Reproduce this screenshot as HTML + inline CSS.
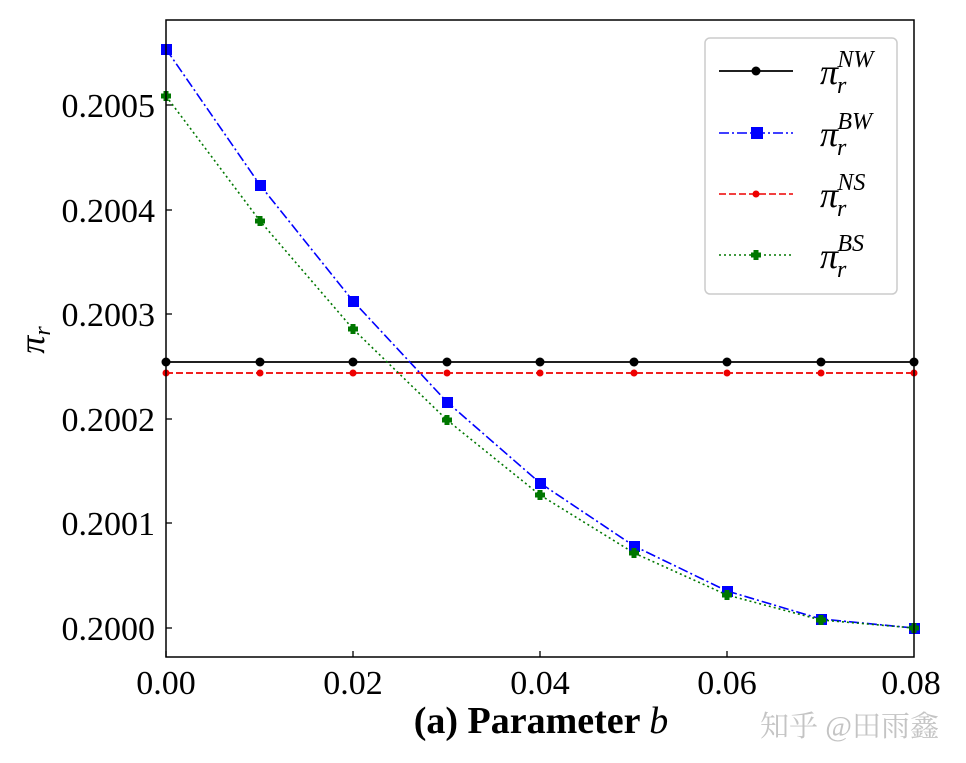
<!DOCTYPE html><html><head><style>body{margin:0;background:#fff}svg{display:block}text{font-family:"Liberation Serif","Noto Serif CJK SC",serif}</style></head><body>
<svg width="966" height="763" xmlns="http://www.w3.org/2000/svg">
<defs>
<path id="pl" d="M-2.5,-5 h5 v2.5 h2.5 v5 h-2.5 v2.5 h-5 v-2.5 h-2.5 v-5 h2.5z" fill="#070"/>
</defs>
<g stroke="#000" stroke-width="1.3">
<line x1="166" y1="657" x2="166" y2="651"/><line x1="353" y1="657" x2="353" y2="651"/><line x1="540" y1="657" x2="540" y2="651"/><line x1="727" y1="657" x2="727" y2="651"/>
<line x1="166" y1="628" x2="172" y2="628"/><line x1="166" y1="523" x2="172" y2="523"/><line x1="166" y1="419" x2="172" y2="419"/><line x1="166" y1="314" x2="172" y2="314"/><line x1="166" y1="210" x2="172" y2="210"/><line x1="166" y1="105" x2="172" y2="105"/>
</g>
<g font-size="34" text-anchor="end">
<text x="155" y="640">0.2000</text><text x="155" y="535">0.2001</text><text x="155" y="431">0.2002</text><text x="155" y="326">0.2003</text><text x="155" y="222">0.2004</text><text x="155" y="117">0.2005</text>
</g>
<g font-size="34" text-anchor="middle">
<text x="166" y="694">0.00</text><text x="353" y="694">0.02</text><text x="540" y="694">0.04</text><text x="727" y="694">0.06</text><text x="911" y="694">0.08</text>
<text x="541" y="733" font-weight="bold" font-size="38">(a) Parameter <tspan font-style="italic" font-weight="normal">b</tspan></text>
</g>
<text transform="translate(44,340) rotate(-90)" font-size="36" font-style="italic" text-anchor="middle">π<tspan font-size="24" dy="6">r</tspan></text>
<polyline fill="none" stroke="#000" stroke-width="1.8" points="166,362 914,362"/>
<polyline fill="none" stroke="#e00" stroke-width="1.8" stroke-dasharray="7,3" points="166,373 914,373"/>
<polyline fill="none" stroke="#00f" stroke-width="1.6" stroke-dasharray="10,3,2,3" points="166,49 260,185 353,301 447,402 540,483 634,546 727,591 821,619 914,628"/>
<polyline fill="none" stroke="#070" stroke-width="1.6" stroke-dasharray="2,3" points="166,96 260,221 353,329 447,420 540,495 634,553 727,595 821,620 914,628"/>
<g fill="#000"><circle cx="166" cy="362" r="4.5"/><circle cx="260" cy="362" r="4.5"/><circle cx="353" cy="362" r="4.5"/><circle cx="447" cy="362" r="4.5"/><circle cx="540" cy="362" r="4.5"/><circle cx="634" cy="362" r="4.5"/><circle cx="727" cy="362" r="4.5"/><circle cx="821" cy="362" r="4.5"/><circle cx="914" cy="362" r="4.5"/></g>
<g fill="#e00"><circle cx="166" cy="373" r="3.5"/><circle cx="260" cy="373" r="3.5"/><circle cx="353" cy="373" r="3.5"/><circle cx="447" cy="373" r="3.5"/><circle cx="540" cy="373" r="3.5"/><circle cx="634" cy="373" r="3.5"/><circle cx="727" cy="373" r="3.5"/><circle cx="821" cy="373" r="3.5"/><circle cx="914" cy="373" r="3.5"/></g>
<g fill="#00f"><rect x="161" y="44" width="11" height="11"/><rect x="255" y="180" width="11" height="11"/><rect x="348" y="296" width="11" height="11"/><rect x="442" y="397" width="11" height="11"/><rect x="535" y="478" width="11" height="11"/><rect x="629" y="541" width="11" height="11"/><rect x="722" y="586" width="11" height="11"/><rect x="816" y="614" width="11" height="11"/><rect x="909" y="623" width="11" height="11"/></g>
<use href="#pl" x="166" y="96"/><use href="#pl" x="260" y="221"/><use href="#pl" x="353" y="329"/><use href="#pl" x="447" y="420"/><use href="#pl" x="540" y="495"/><use href="#pl" x="634" y="553"/><use href="#pl" x="727" y="595"/><use href="#pl" x="821" y="620"/><use href="#pl" x="914" y="628"/>
<rect x="166" y="20" width="748" height="637" fill="none" stroke="#000" stroke-width="1.5"/>
<rect x="705" y="38" width="192" height="256" rx="5" fill="#fff" fill-opacity="0.85" stroke="#ccc" stroke-width="1.5"/>
<line x1="719" y1="71" x2="793" y2="71" stroke="#000" stroke-width="1.8"/><circle cx="756" cy="71" r="4.5"/>
<line x1="719" y1="133" x2="793" y2="133" stroke="#00f" stroke-width="1.6" stroke-dasharray="10,3,2,3"/><rect x="751" y="127" width="12" height="12" fill="#00f"/>
<line x1="719" y1="194" x2="793" y2="194" stroke="#e00" stroke-width="1.6" stroke-dasharray="7,3"/><circle cx="756" cy="194" r="3.5" fill="#e00"/>
<line x1="719" y1="255" x2="793" y2="255" stroke="#070" stroke-width="1.6" stroke-dasharray="2,3"/><use href="#pl" x="756" y="255"/>
<g font-size="36" font-style="italic">
<text x="820" y="84">π<tspan font-size="24" dx="-1" dy="9">r</tspan><tspan font-size="24" dx="-9" dy="-26">NW</tspan></text>
<text x="820" y="146">π<tspan font-size="24" dx="-1" dy="9">r</tspan><tspan font-size="24" dx="-9" dy="-26">BW</tspan></text>
<text x="820" y="207">π<tspan font-size="24" dx="-1" dy="9">r</tspan><tspan font-size="24" dx="-9" dy="-26">NS</tspan></text>
<text x="820" y="268">π<tspan font-size="24" dx="-1" dy="9">r</tspan><tspan font-size="24" dx="-9" dy="-26">BS</tspan></text>
</g>
<text x="760" y="736" font-size="29" fill="#c4c4c4" font-family="'Noto Sans CJK SC',sans-serif">知乎 @田雨鑫</text>
</svg></body></html>
